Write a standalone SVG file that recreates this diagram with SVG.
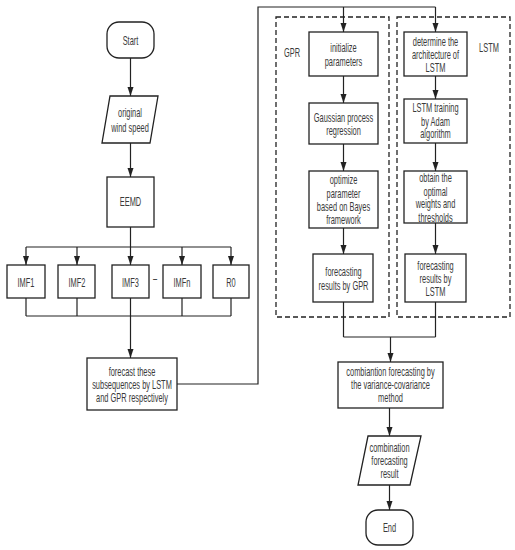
<svg xmlns="http://www.w3.org/2000/svg" width="515" height="550" viewBox="0 0 515 550">
<style>
.s{fill:#fff;stroke:#222;stroke-width:1.3}
.d{fill:none;stroke:#222;stroke-width:1.3;stroke-dasharray:5 3}
.c{fill:none;stroke:#222;stroke-width:1.2}
.a{marker-end:url(#ah)}
text{font-family:"Liberation Sans",Arial,sans-serif;font-size:12px;fill:#3a3a3a;text-anchor:middle;dominant-baseline:central}
</style>
<defs>
<marker id="ah" markerUnits="userSpaceOnUse" markerWidth="9" markerHeight="8" refX="9" refY="3" orient="auto">
<path d="M0,0 L9,3 L0,6 z" fill="#222"/>
</marker>
</defs>
<rect width="515" height="550" fill="#fff"/>
<g id="connectors">
<path class="c a" d="M130.5,58 V96"/>
<path class="c a" d="M130.5,143 V177"/>
<path class="c" d="M130.5,227 V247 M26,247 H231"/>
<path class="c a" d="M26,247 V265"/>
<path class="c a" d="M77,247 V265"/>
<path class="c a" d="M130.5,247 V265"/>
<path class="c a" d="M182,247 V265"/>
<path class="c a" d="M231,247 V265"/>
<path class="c" d="M26,298 V316 M77,298 V316 M130.5,298 V316 M182,298 V316 M231,298 V316 M26,316 H231"/>
<path class="c a" d="M130.5,316 V358"/>
<path class="c" d="M177,384 H258 V7 H435.5"/>
<path class="c a" d="M343.5,7 V32"/>
<path class="c a" d="M435.5,7 V32"/>
<path class="c a" d="M343.5,76 V103"/>
<path class="c a" d="M343.5,144 V171"/>
<path class="c a" d="M343.5,228 V254"/>
<path class="c a" d="M435.5,76 V99"/>
<path class="c a" d="M435.5,143 V171"/>
<path class="c a" d="M435.5,223 V254"/>
<path class="c" d="M343.5,302 V337 M435.5,302 V337 M343.5,337 H435.5"/>
<path class="c a" d="M390.5,337 V362"/>
<path class="c a" d="M389.5,408 V436"/>
<path class="c a" d="M389.5,485 V510"/>
</g>
<g id="gpr-group">
<rect class="d" x="276" y="17" width="113" height="300"/>
<text transform="translate(292 53) scale(0.62 1)">GPR</text>
</g>
<g id="lstm-group">
<rect class="d" x="397" y="17" width="113" height="300"/>
<text transform="translate(489 48) scale(0.62 1)">LSTM</text>
</g>
<g id="start">
<rect class="s" x="107" y="22" width="47" height="36" rx="12"/>
<text transform="translate(130.5 41) scale(0.62 1)">Start</text>
</g>
<g id="input">
<polygon class="s" points="110,96 158,96 150,143 102,143"/>
<text transform="translate(130 113) scale(0.62 1)">original</text>
<text transform="translate(130 128) scale(0.62 1)">wind speed</text>
</g>
<g id="eemd">
<rect class="s" x="107" y="177" width="47" height="50"/>
<text transform="translate(130.5 202) scale(0.62 1)">EEMD</text>
</g>
<g id="imf1">
<rect class="s" x="7" y="265" width="38" height="33"/>
<text transform="translate(26 283) scale(0.62 1)">IMF1</text>
</g>
<g id="imf2">
<rect class="s" x="58" y="265" width="37" height="33"/>
<text transform="translate(77 283) scale(0.62 1)">IMF2</text>
</g>
<g id="imf3">
<rect class="s" x="112" y="265" width="37" height="33"/>
<text transform="translate(130.5 283) scale(0.62 1)">IMF3</text>
</g>
<g id="ellipsis">
<text transform="translate(155 279) scale(0.62 1)">–</text>
</g>
<g id="imfn">
<rect class="s" x="163" y="265" width="38" height="33"/>
<text transform="translate(182 283) scale(0.62 1)">IMFn</text>
</g>
<g id="r0">
<rect class="s" x="213" y="265" width="36" height="33"/>
<text transform="translate(231 283) scale(0.62 1)">R0</text>
</g>
<g id="forecast">
<rect class="s" x="87" y="358" width="90" height="52"/>
<text transform="translate(132 372) scale(0.62 1)">forecast these</text>
<text transform="translate(132 385) scale(0.62 1)">subsequences by LSTM</text>
<text transform="translate(132 398) scale(0.62 1)">and GPR respectively</text>
</g>
<g id="init">
<rect class="s" x="309" y="32" width="69" height="44"/>
<text transform="translate(343.5 48) scale(0.62 1)">initialize</text>
<text transform="translate(343.5 62) scale(0.62 1)">parameters</text>
</g>
<g id="gauss">
<rect class="s" x="309" y="103" width="69" height="41"/>
<text transform="translate(343.5 118) scale(0.62 1)">Gaussian process</text>
<text transform="translate(343.5 131) scale(0.62 1)">regression</text>
</g>
<g id="optimize">
<rect class="s" x="309" y="171" width="69" height="57"/>
<text transform="translate(343.5 180) scale(0.62 1)">optimize</text>
<text transform="translate(343.5 194) scale(0.62 1)">parameter</text>
<text transform="translate(343.5 207) scale(0.62 1)">based on Bayes</text>
<text transform="translate(343.5 220) scale(0.62 1)">framework</text>
</g>
<g id="gpr-result">
<rect class="s" x="313" y="254" width="60" height="48"/>
<text transform="translate(343.5 272) scale(0.62 1)">forecasting</text>
<text transform="translate(343.5 286) scale(0.62 1)">results by GPR</text>
</g>
<g id="determine">
<rect class="s" x="404" y="32" width="63" height="44"/>
<text transform="translate(435.5 42) scale(0.62 1)">determine the</text>
<text transform="translate(435.5 55) scale(0.62 1)">architecture of</text>
<text transform="translate(435.5 68) scale(0.62 1)">LSTM</text>
</g>
<g id="training">
<rect class="s" x="404" y="99" width="63" height="44"/>
<text transform="translate(435.5 108) scale(0.62 1)">LSTM training</text>
<text transform="translate(435.5 122) scale(0.62 1)">by Adam</text>
<text transform="translate(435.5 134) scale(0.62 1)">algorithm</text>
</g>
<g id="obtain">
<rect class="s" x="404" y="171" width="63" height="52"/>
<text transform="translate(435.5 178) scale(0.62 1)">obtain the</text>
<text transform="translate(435.5 192) scale(0.62 1)">optimal</text>
<text transform="translate(435.5 204) scale(0.62 1)">weights and</text>
<text transform="translate(435.5 218) scale(0.62 1)">thresholds</text>
</g>
<g id="lstm-result">
<rect class="s" x="405" y="254" width="61" height="48"/>
<text transform="translate(435.5 266) scale(0.62 1)">forecasting</text>
<text transform="translate(435.5 279) scale(0.62 1)">results by</text>
<text transform="translate(435.5 292) scale(0.62 1)">LSTM</text>
</g>
<g id="combination">
<rect class="s" x="338" y="362" width="105" height="46"/>
<text transform="translate(390.5 372) scale(0.62 1)">combiantion forecasting by</text>
<text transform="translate(390.5 385) scale(0.62 1)">the variance-covariance</text>
<text transform="translate(390.5 398) scale(0.62 1)">method</text>
</g>
<g id="output">
<polygon class="s" points="368,436 421,436 410,485 358,485"/>
<text transform="translate(389.5 448) scale(0.62 1)">combination</text>
<text transform="translate(389.5 461) scale(0.62 1)">forecasting</text>
<text transform="translate(389.5 474) scale(0.62 1)">result</text>
</g>
<g id="end">
<rect class="s" x="366" y="510" width="47" height="35" rx="12"/>
<text transform="translate(389.5 528) scale(0.62 1)">End</text>
</g>
</svg>
